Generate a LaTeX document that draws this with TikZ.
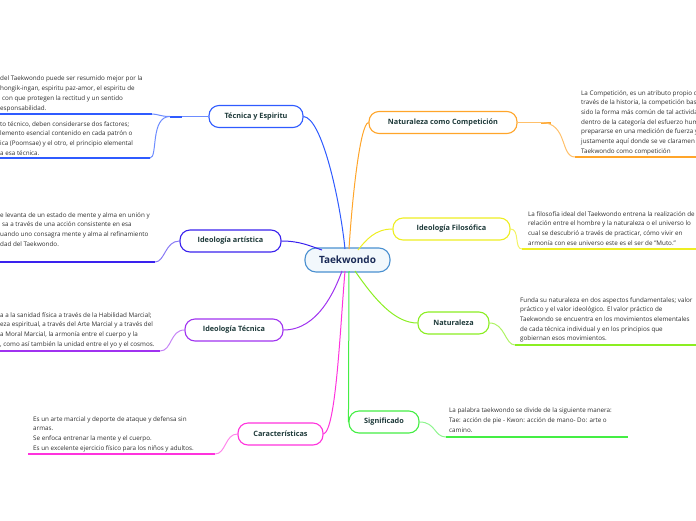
\documentclass[tikz,border=0pt]{standalone}
\usepackage{fontspec}
\setmainfont{Open Sans}
\definecolor{cblue}{HTML}{2F5BFF}
\definecolor{corange}{HTML}{FFA52A}
\definecolor{cyellow}{HTML}{EEEE22}
\definecolor{cindigo}{HTML}{3A22EE}
\definecolor{cpurple}{HTML}{A033F0}
\definecolor{clime}{HTML}{8BEE22}
\definecolor{cgreen}{HTML}{44EE44}
\definecolor{cmagenta}{HTML}{FF33DD}
\definecolor{ccenter}{HTML}{4A90D0}
\definecolor{ccfill}{HTML}{F2F8FC}
\definecolor{ctext}{HTML}{1E3A3A}
\definecolor{cbody}{HTML}{2E2E2E}
\definecolor{cnavy}{HTML}{1B2B57}
\tikzset{
  topic/.style={draw=#1, line width=1.1pt, rounded corners=10pt, fill=white,
    minimum height=22pt, inner xsep=8pt, text=ctext,
    font=\bfseries\fontsize{7.3}{8.5}\selectfont},
  body/.style={align=left, inner sep=0pt, text=cbody, anchor=north west,
    font=\fontsize{6.3}{9.7}\selectfont},
  conn/.style={draw=#1, line width=1pt},
  uline/.style={draw=#1, line width=1.8pt},
}
\begin{document}
\begin{tikzpicture}[x=1pt,y=-1pt]
\useasboundingbox (0,0) rectangle (696,520);
\clip (0,0) rectangle (696,520);

% central node
\node[draw=ccenter, line width=1.1pt, fill=ccfill, rounded corners=11pt,
  minimum width=85pt, minimum height=24pt, text=cnavy,
  font=\bfseries\fontsize{10}{12}\selectfont] (tk) at (347.5,260) {Taekwondo};
\coordinate (ct1) at (345,249);
\coordinate (ct2) at (349,249);
\coordinate (ct3) at (358,250);
\coordinate (ct4) at (322,250);
\coordinate (cb1) at (342,271);
\coordinate (cb2) at (355,271);
\coordinate (cb3) at (349,271);
\coordinate (cb4) at (345,271);

% topic nodes
\node[topic=cblue, minimum width=94pt] (te) at (256,116.5) {Técnica y Espiritu};
\node[topic=corange, minimum width=148pt] (nc) at (443,122.5) {Naturaleza como Competición};
\node[topic=cyellow, minimum width=117pt] (if) at (451.5,229) {Ideología Filosófica};
\node[topic=cindigo, minimum width=101pt] (ia) at (230.5,241) {Ideología artística};
\node[topic=clime, minimum width=71pt] (na) at (453.5,323) {Naturaleza};
\node[topic=cpurple, minimum width=98pt] (it) at (234,330) {Ideología Técnica};
\node[topic=cgreen, minimum width=70pt] (sg) at (384,422) {Significado};
\node[topic=cmagenta, minimum width=85pt] (ca) at (280.5,434) {Características};

% center connectors
\draw[conn=cblue] (te.east) .. controls (322,118) and (340,200) .. (ct1);
\draw[conn=corange] (nc.west) .. controls (360,124) and (352,200) .. (ct2);
\draw[conn=cyellow] (if.west) .. controls (375,229) and (366,240) .. (ct3);
\draw[conn=cindigo] (ia.east) .. controls (300,241) and (310,246) .. (ct4);
\draw[conn=cpurple] (it.east) .. controls (318,330) and (335,290) .. (cb1);
\draw[conn=clime] (cb2) .. controls (375,300) and (395,323) .. (na.west);
\draw[conn=cgreen] (cb3) -- (sg.west);
\draw[conn=cmagenta] (cb4) .. controls (340,330) and (336,430) .. (ca.east);

% --- Técnica y Espiritu texts
\coordinate (j1) at (170,116.5);
\coordinate (u1a) at (0,114);
\coordinate (u1b) at (152,114);
\coordinate (u2a) at (0,158);
\coordinate (u2b) at (150,158);
\draw[conn=cblue!70] (te.west) -- (j1);
\draw[draw=cblue, line width=2pt] (j1) -- ++(12,0);
\draw[conn=cblue!70] (j1) .. controls (160,116.5) and (158,114) .. (u1b);
\draw[conn=cblue!70] (j1) .. controls (150,116.5) and (158,158) .. (u2b);
\draw[uline=cblue] (u1a) -- (u1b);
\draw[uline=cblue] (u2a) -- (u2b);
\node[body] (t1) at (0,76) {del Taekwondo puede ser resumido mejor por la\\
hongik-ingan, espiritu paz-amor, el espiritu de\\
\hspace*{2pt}con que protegen la rectitud y un sentido\\
esponsabilidad.};
\node[body] (t2) at (0,121) {to técnico, deben considerarse dos factores;\\
lemento esencial contenido en cada patrón o\\
ica (Poomsae) y el otro, el principio elemental\\
a esa técnica.};

% --- Naturaleza como Competición
\coordinate (jn) at (541,122.5);
\coordinate (n1a) at (575,157);
\coordinate (n1b) at (696,157);
\draw[conn=corange!70] (nc.east) -- (jn);
\draw[draw=corange, line width=2pt] (jn) -- ++(10,0);
\draw[conn=corange!70] (jn) .. controls (568,122.5) and (560,157) .. (n1a);
\draw[uline=corange] (n1a) -- (n1b);
\node[body] (t3) at (581,90) {La Competición, es un atributo propio d\\
través de la historia, la competición bas\\
sido la forma más común de tal activida\\
dentro de la categoría del esfuerzo hum\\
prepararse en una medición de fuerza y\\
justamente aquí donde se ve claramen\\
Taekwondo como competición};

% --- Ideología Filosófica
\coordinate (f1a) at (522,249);
\coordinate (f1b) at (696,249);
\draw[conn=cyellow!70] (if.east) .. controls (520,229) and (514,249) .. (f1a);
\draw[uline=cyellow] (f1a) -- (f1b);
\node[body] (t4) at (528,211) {La filosofía ideal del Taekwondo entrena la realización de\\
relación entre el hombre y la naturaleza o el universo lo\\
cual se descubrió a través de practicar, cómo vivir en\\
armonía con ese universo este es el ser de "Muto."};

% --- Ideología artística
\coordinate (a1a) at (0,262);
\coordinate (a1b) at (155,262);
\draw[conn=cindigo!60] (ia.west) .. controls (165,241) and (165,262) .. (a1b);
\draw[uline=cindigo] (a1a) -- (a1b);
\node[body] (t5) at (0,212) {e levanta de un estado de mente y alma en unión y\\
\hspace*{2pt}sa a través de una acción consistente en esa\\
uando uno consagra mente y alma al refinamiento\\
dad del Taekwondo.};

% --- Naturaleza
\coordinate (z1a) at (515,345);
\coordinate (z1b) at (696,345);
\draw[conn=clime!70] (na.east) .. controls (505,323) and (505,345) .. (z1a);
\draw[uline=clime] (z1a) -- (z1b);
\node[body] (t6) at (520,297) {Funda su naturaleza en dos aspectos fundamentales; valor\\
práctico y el valor ideológico. El valor práctico de\\
Taekwondo se encuentra en los movimientos elementales\\
de cada técnica individual y en los principios que\\
gobiernan esos movimientos.};

% --- Ideología Técnica
\coordinate (p1a) at (0,351);
\coordinate (p1b) at (160,351);
\draw[conn=cpurple!60] (it.west) .. controls (170,330) and (172,351) .. (p1b);
\draw[uline=cpurple] (p1a) -- (p1b);
\node[body] (t7) at (0,312) {a a la sanidad física a través de la Habilidad Marcial;\\
eza espiritual, a través del Arte Marcial y a través del\\
a Moral Marcial, la armonía entre el cuerpo y la\\
, como así también la unidad entre el yo y el cosmos.};

% --- Significado
\coordinate (s1a) at (446,437);
\coordinate (s1b) at (628,437);
\draw[conn=cgreen!60] (sg.east) .. controls (436,422) and (434,437) .. (s1a);
\draw[uline=cgreen] (s1a) -- (s1b);
\node[body] (t8) at (449,408) {La palabra taekwondo se divide de la siguiente manera:\\
Tae: acción de pie - Kwon: acción de mano- Do: arte o\\
camino.};

% --- Características
\coordinate (m1a) at (28,454);
\coordinate (m1b) at (215,454);
\draw[conn=cmagenta!60] (ca.west) .. controls (225,434) and (226,454) .. (m1b);
\draw[uline=cmagenta] (m1a) -- (m1b);
\node[body] (t9) at (33,416) {Es un arte marcial y deporte de ataque y defensa sin\\
armas.\\
Se enfoca entrenar la mente y el cuerpo.\\
Es un excelente ejercicio físico para los niños y adultos.};
\end{tikzpicture}
\end{document}
